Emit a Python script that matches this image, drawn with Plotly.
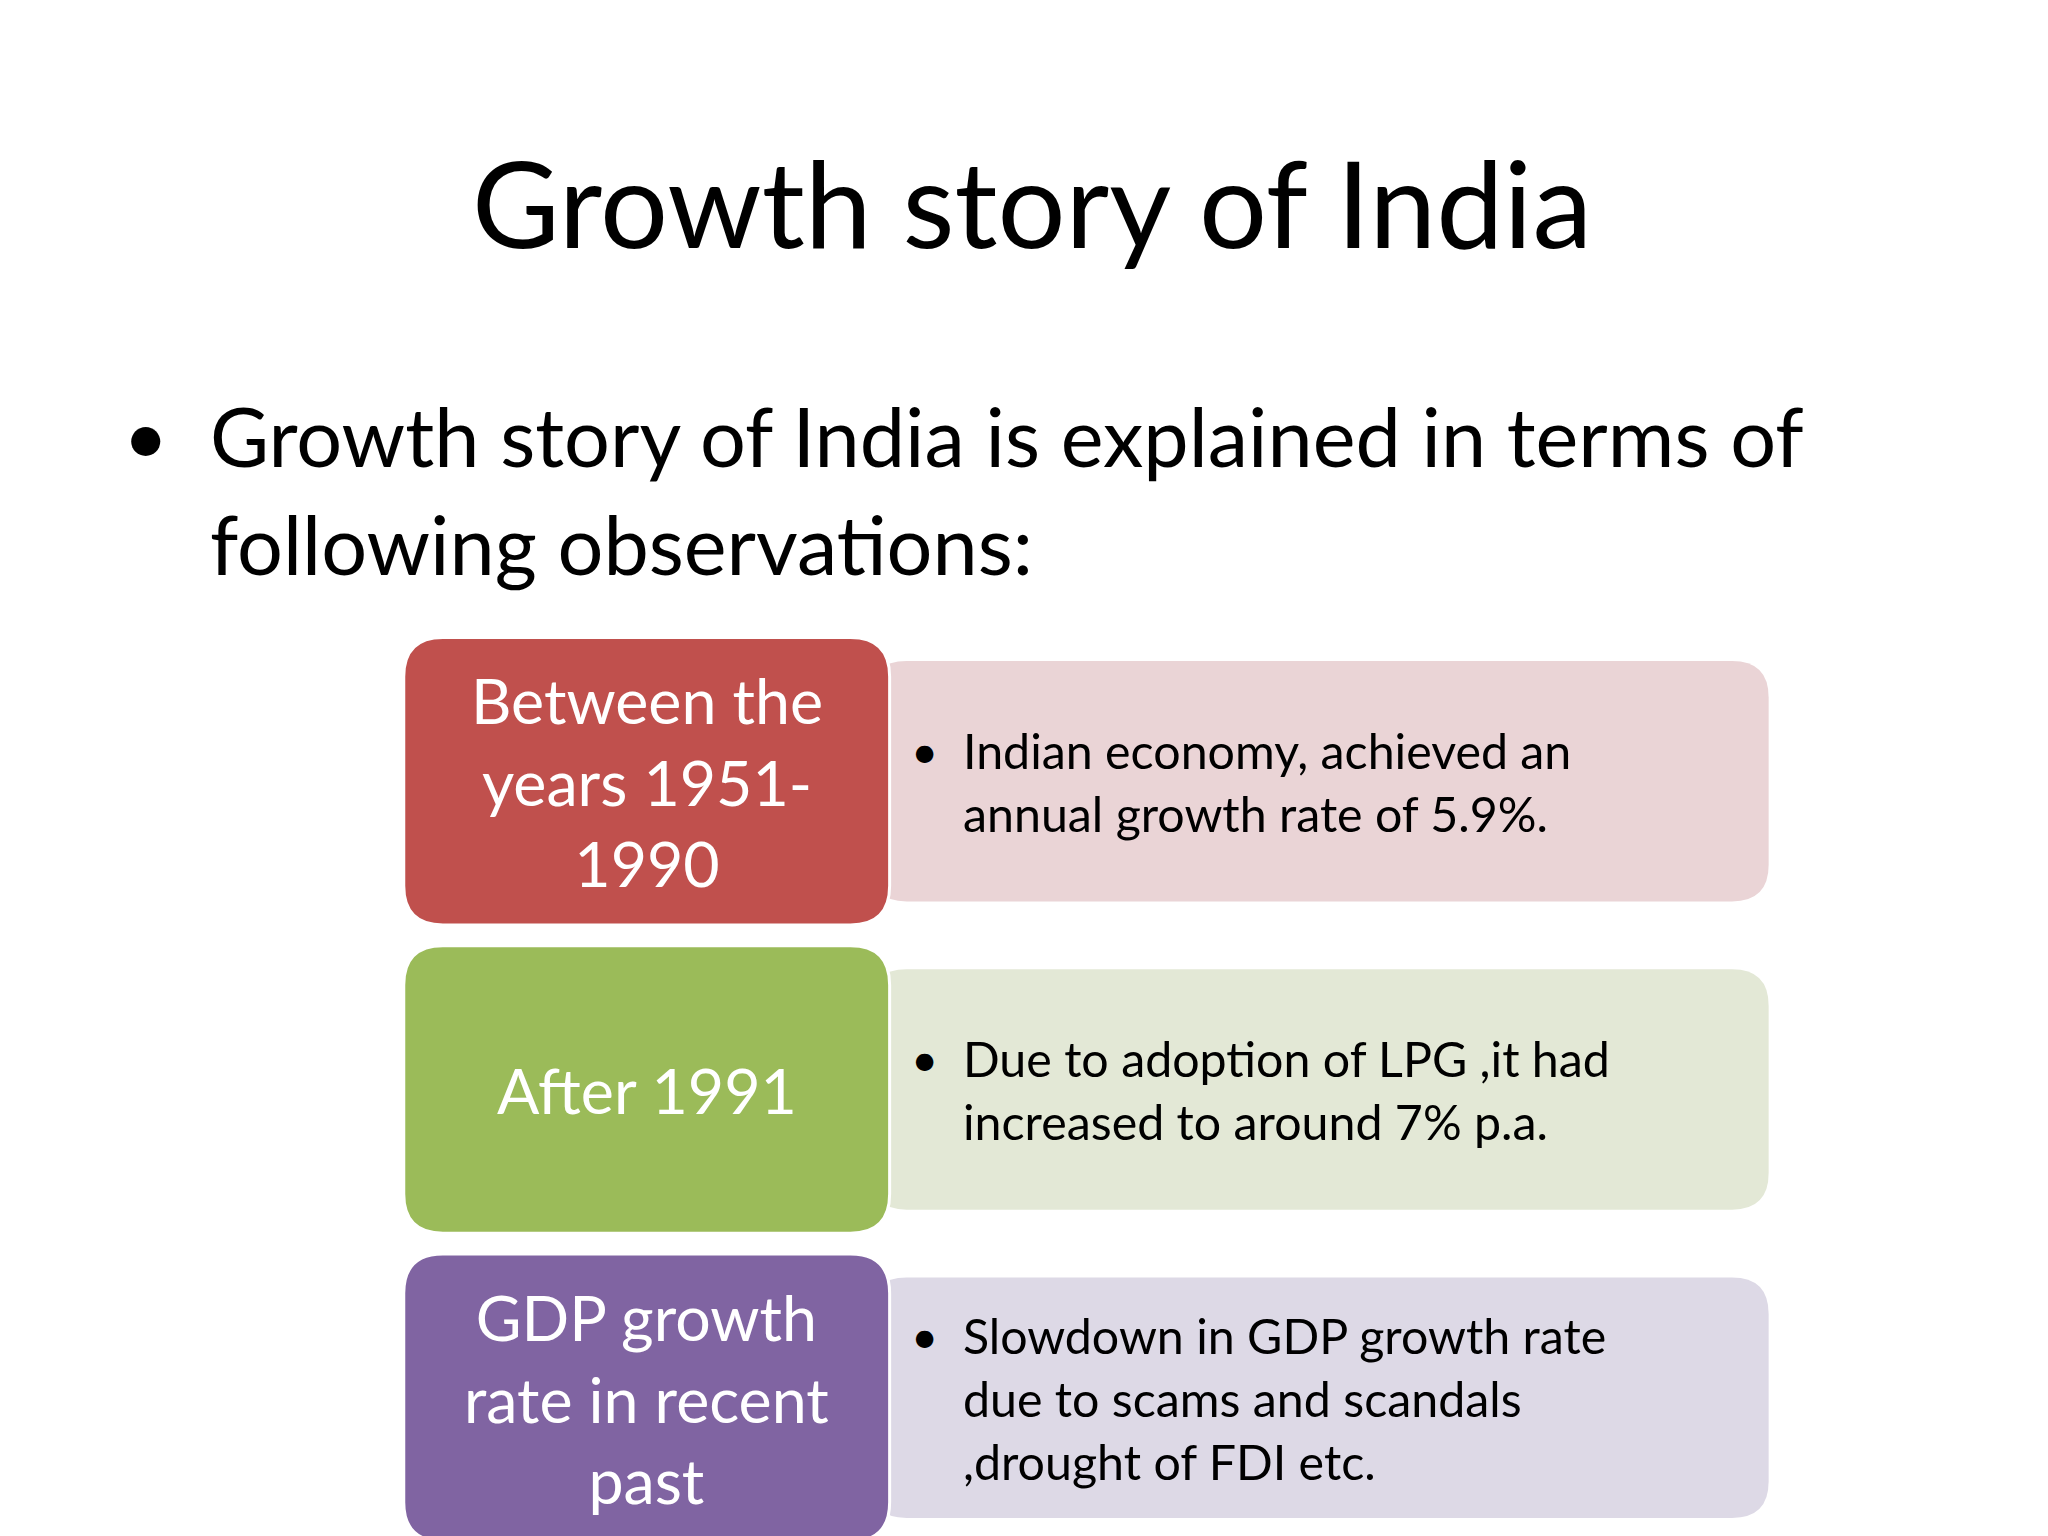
import plotly.graph_objects as go

W, H = 1568.0, 1176.0  # layout basis, scaled to 2048x1536

title = "Growth story of India"
intro_lines = ["Growth story of India is explained in terms of", "following observations:"]
labels = ["Between the<br>years 1951-<br>1990", "After 1991", "GDP growth<br>rate in recent<br>past"]
details = [
    "Indian economy, achieved an<br>annual growth rate of 5.9%.",
    "Due to adoption of LPG ,it had<br>increased to around 7% p.a.",
    "Slowdown in GDP growth rate<br>due to scams and scandals<br>,drought of FDI etc.",
]
dark_colors = ["#C0504D", "#9BBB59", "#8064A2"]
light_colors = ["#EAD4D6", "#E3E8D6", "#DDD9E6"]

S = 2048 / W
FONT = "Lato"


def px(x):
    return x / W


def py(y):
    return 1 - y / H


def rounded(x0, y0, x1, y1, r):
    # path in paper coords; pixel inputs
    rx, ry = r / W, r / H
    a, b, c, d = px(x0), py(y0), px(x1), py(y1)
    return (f"M{a+rx},{b} L{c-rx},{b} Q{c},{b} {c},{b-ry} L{c},{d+ry} Q{c},{d} {c-rx},{d} "
            f"L{a+rx},{d} Q{a},{d} {a},{d+ry} L{a},{b-ry} Q{a},{b} {a+rx},{b} Z")


fig = go.Figure()
shapes, annos = [], []

annos.append(dict(x=0.5, y=py(148), text=title, showarrow=False, xanchor="center", yanchor="middle",
                  font=dict(size=92 * S, color="black", family=FONT)))
annos.append(dict(x=px(105), y=py(327), text="•", showarrow=False, xanchor="center", yanchor="middle",
                  font=dict(size=60 * S, color="black", family=FONT)))
for i, line in enumerate(intro_lines):
    annos.append(dict(x=px(153), y=py(327 + 83 * i), text=line, showarrow=False, xanchor="left",
                      yanchor="middle", font=dict(size=62 * S, color="black", family=FONT)))

for i in range(3):
    top = 482 + 236 * i
    shapes.append(dict(type="path", xref="paper", yref="paper",
                       path=rounded(660, top + 18, 1348, top + 202, 28),
                       fillcolor=light_colors[i], line=dict(width=0), layer="below"))
    shapes.append(dict(type="path", xref="paper", yref="paper",
                       path=rounded(303, top, 675, top + 220, 30),
                       fillcolor=dark_colors[i], line=dict(color="white", width=3)))
    annos.append(dict(x=px(489), y=py(top + 110), text=labels[i], showarrow=False, xanchor="center",
                      yanchor="middle", align="center",
                      font=dict(size=48 * S, color="white", family=FONT)))
    nlines = details[i].count("<br>") + 1
    first = top + 110 - 24 * (nlines - 1)
    annos.append(dict(x=px(702), y=py(first), text="•", showarrow=False, xanchor="center",
                      yanchor="middle", font=dict(size=36 * S, color="black", family=FONT)))
    annos.append(dict(x=px(730), y=py(top + 110), text=details[i], showarrow=False, xanchor="left",
                      yanchor="middle", align="left",
                      font=dict(size=37 * S, color="black", family=FONT)))

fig.update_layout(width=2048, height=1536, margin=dict(l=0, r=0, t=0, b=0),
                  paper_bgcolor="white", plot_bgcolor="white", shapes=shapes, annotations=annos,
                  xaxis=dict(visible=False, range=[0, 1]), yaxis=dict(visible=False, range=[0, 1]),
                  showlegend=False)

fig.write_html("out.html")
